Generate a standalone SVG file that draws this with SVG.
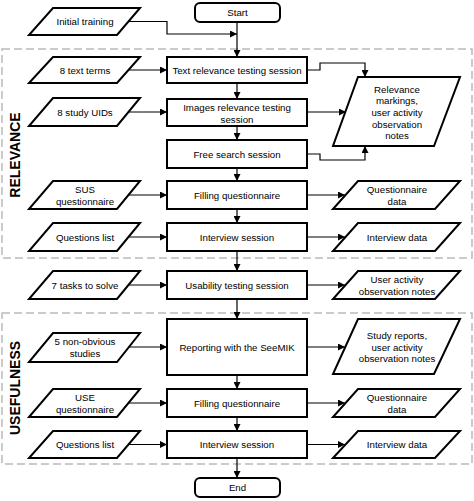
<svg xmlns="http://www.w3.org/2000/svg" width="474" height="501" viewBox="0 0 474 501">
<defs>
<marker id="ah" viewBox="0 0 10 10" refX="10" refY="5" markerWidth="7" markerHeight="7" markerUnits="userSpaceOnUse" orient="auto">
<path d="M0,0 L10,5 L0,10 z" fill="#000"/>
</marker>
</defs>
<style>
.box{fill:#fff;stroke:#000;stroke-width:2}
.region{fill:none;stroke:#bbb;stroke-width:1.5;stroke-dasharray:8 4}
.c{fill:none;stroke:#000;stroke-width:1.2;marker-end:url(#ah)}
text{font-family:"Liberation Sans",Arial,sans-serif;font-size:9.7px;fill:#000;text-anchor:middle;dominant-baseline:central}
.lbl{font-size:14px;font-weight:bold}
</style>
<rect fill="#fff" x="0" y="0" width="474" height="501"/>
<g id="regions">
<rect class="region" x="2" y="49" width="470" height="209"/>
<rect class="region" x="2" y="313" width="470" height="151"/>
<text class="lbl" transform="translate(15,155) rotate(-90)">RELEVANCE</text>
<text class="lbl" transform="translate(15,388) rotate(-90)">USEFULNESS</text>
</g>
<g id="connectors">
<path class="c" d="M237,22 V57"/>
<path class="c" d="M129,21.5 H167 V34 H237"/>
<path class="c" d="M237,83 V99"/>
<path class="c" d="M237,126 V140"/>
<path class="c" d="M237,168 V181"/>
<path class="c" d="M237,209 V223"/>
<path class="c" d="M237,251 V271"/>
<path class="c" d="M237,299 V319"/>
<path class="c" d="M237,375 V389"/>
<path class="c" d="M237,417 V431"/>
<path class="c" d="M237,458 V478"/>
<path class="c" d="M129,70 H167"/>
<path class="c" d="M129,112 H167"/>
<path class="c" d="M129,195 H167"/>
<path class="c" d="M129,237 H167"/>
<path class="c" d="M129,285 H167"/>
<path class="c" d="M129,347 H167"/>
<path class="c" d="M129,403 H167"/>
<path class="c" d="M129,444.5 H167"/>
<path class="c" d="M307,70 H320 V63 H365 V77"/>
<path class="c" d="M307,112 H346"/>
<path class="c" d="M307,154 H320 V160 H365 V146"/>
<path class="c" d="M307,195 H345"/>
<path class="c" d="M307,237 H345"/>
<path class="c" d="M307,285 H345"/>
<path class="c" d="M307,347 H345"/>
<path class="c" d="M307,403 H345"/>
<path class="c" d="M307,444.5 H345"/>
</g>
<g id="start"><rect class="box" x="195" y="3" width="85" height="19" rx="5"/><text x="237.5" y="12.5">Start</text></g>
<g id="end"><rect class="box" x="195" y="478" width="85" height="19" rx="5"/><text x="237.5" y="487.5">End</text></g>
<g id="p1"><rect class="box" x="167" y="57" width="140" height="26"/><text x="237" y="70">Text relevance testing session</text></g>
<g id="p2"><rect class="box" x="167" y="99" width="140" height="27"/><text x="237" y="107">Images relevance testing</text><text x="237" y="119">session</text></g>
<g id="p3"><rect class="box" x="167" y="140" width="140" height="28"/><text x="237" y="154">Free search session</text></g>
<g id="p4"><rect class="box" x="167" y="181" width="140" height="28"/><text x="237" y="195">Filling questionnaire</text></g>
<g id="p5"><rect class="box" x="167" y="223" width="140" height="28"/><text x="237" y="237">Interview session</text></g>
<g id="p6"><rect class="box" x="167" y="271" width="140" height="28"/><text x="237" y="285">Usability testing session</text></g>
<g id="p7"><rect class="box" x="167" y="319" width="140" height="56"/><text x="237" y="347">Reporting with the SeeMIK</text></g>
<g id="p8"><rect class="box" x="167" y="389" width="140" height="28"/><text x="237" y="403">Filling questionnaire</text></g>
<g id="p9"><rect class="box" x="167" y="431" width="140" height="27"/><text x="237" y="444.5">Interview session</text></g>
<g id="i0"><polygon class="box" points="53,8 140,8 117,35 29,35"/><text x="85" y="21.5">Initial training</text></g>
<g id="i1"><polygon class="box" points="53,57 140,57 117,83 29,83"/><text x="85" y="70">8 text terms</text></g>
<g id="i2"><polygon class="box" points="53,98 140,98 117,126 29,126"/><text x="85" y="112">8 study UIDs</text></g>
<g id="i3"><polygon class="box" points="53,181 140,181 117,209 29,209"/><text x="85" y="189">SUS</text><text x="85" y="201">questionnaire</text></g>
<g id="i4"><polygon class="box" points="53,223 140,223 117,251 29,251"/><text x="85" y="237">Questions list</text></g>
<g id="i5"><polygon class="box" points="53,271 140,271 117,299 29,299"/><text x="85" y="285">7 tasks to solve</text></g>
<g id="i6"><polygon class="box" points="53,333 140,333 117,362 29,362"/><text x="85" y="341.5">5 non-obvious</text><text x="85" y="353.5">studies</text></g>
<g id="i7"><polygon class="box" points="53,389 140,389 117,417 29,417"/><text x="85" y="397">USE</text><text x="85" y="409">questionnaire</text></g>
<g id="i8"><polygon class="box" points="53,431 140,431 117,458 29,458"/><text x="85" y="444.5">Questions list</text></g>
<g id="o1"><polygon class="box" points="358,77 460,77 434,146 333,146"/><text x="397" y="89">Relevance</text><text x="397" y="100.7">markings,</text><text x="397" y="112.4">user activity</text><text x="397" y="124.1">observation</text><text x="397" y="135.8">notes</text></g>
<g id="o2"><polygon class="box" points="358,181 460,181 435,209 333,209"/><text x="397" y="189">Questionnaire</text><text x="397" y="201">data</text></g>
<g id="o3"><polygon class="box" points="358,223 460,223 435,251 333,251"/><text x="397" y="237">Interview data</text></g>
<g id="o4"><polygon class="box" points="358,271 460,271 435,299 333,299"/><text x="397" y="279">User activity</text><text x="397" y="291">observation notes</text></g>
<g id="o5"><polygon class="box" points="358,319 460,319 434,374 333,374"/><text x="397" y="335.5">Study reports,</text><text x="397" y="347">user activity</text><text x="397" y="358.5">observation notes</text></g>
<g id="o6"><polygon class="box" points="358,389 460,389 435,417 333,417"/><text x="397" y="397">Questionnaire</text><text x="397" y="409">data</text></g>
<g id="o7"><polygon class="box" points="358,431 460,431 435,458 333,458"/><text x="397" y="444.5">Interview data</text></g>
</svg>
